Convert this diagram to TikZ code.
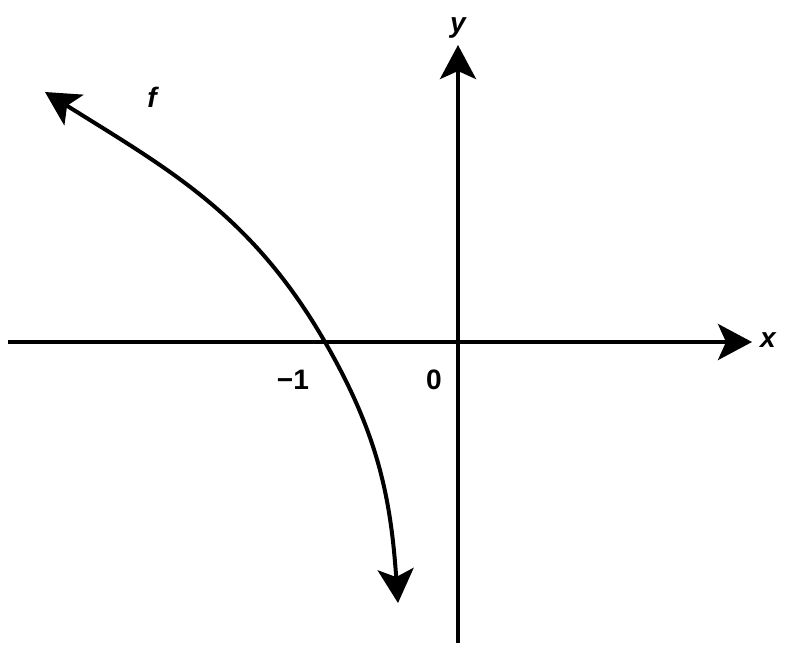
\documentclass[tikz,border=0pt]{standalone}
\usepackage{fontspec}
\setmainfont{Liberation Sans}
\usetikzlibrary{arrows.meta}

\begin{document}
\begin{tikzpicture}
	[
	line width=0.04cm,
	lbl/.style={font=\fontsize{8}{9}\selectfont\bfseries},
	arr/.style={-{Stealth[length=0.34cm,width=0.36cm,inset=0.08cm]}},
	arrs/.style={{Stealth[length=0.34cm,width=0.36cm,inset=0.08cm]}-{Stealth[length=0.34cm,width=0.36cm,inset=0.08cm]}},
	]
	\useasboundingbox (-4.58,-3.10) rectangle (3.34,3.42);

		% axes
		\coordinate (xl) at 		(-4.50,  0.00 );
		\coordinate (xr) at 		( 2.94,  0.00 );
		\coordinate (yb) at 		( 0.00, -3.01 );
		\coordinate (yt) at 		( 0.00,  2.97 );
		\node[lbl] (xn) at 		( 3.10,  0.02 ) {\itshape x};
		\node[lbl] (yn) at 		( 0.00,  3.14 ) {\itshape y};
		\node[lbl] (m1) at 		(-1.65, -0.38 ) {−1};
		\node[lbl] (z0) at 		(-0.24, -0.38 ) {0};

		% graph of f
		\coordinate (ftop) at 		(-4.13,  2.50 );
		\coordinate (fcut) at 		(-1.33,  0.00 );
		\coordinate (fbot) at 		(-0.60, -2.61 );
		\node[lbl] (fn) at 		(-3.06,  2.45 ) {\itshape f};

		\foreach \from/\to in {xl/xr,yb/yt} \draw[arr] (\from) -- (\to);
		\draw[arrs] (ftop) to[out=-32,in=120] (fcut) to[out=-60,in=94] (fbot);

	\end{tikzpicture}
\end{document}
